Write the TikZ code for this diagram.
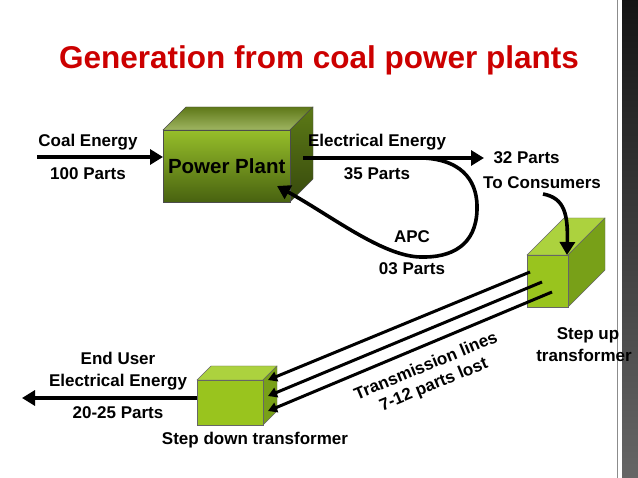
\documentclass[tikz,border=0pt]{standalone}
\usepackage{fontspec}
\setmainfont{Liberation Sans}
\usetikzlibrary{arrows.meta}
\definecolor{titlered}{RGB}{204,0,0}
\definecolor{leafgreen}{RGB}{153,196,30}
\definecolor{leafside}{RGB}{120,160,24}
\definecolor{leaftop}{RGB}{172,210,62}
\definecolor{plantlight}{RGB}{150,190,42}
\definecolor{plantdeep}{RGB}{72,98,16}
\definecolor{planttop}{RGB}{118,150,30}
\definecolor{plantside}{RGB}{92,122,22}
% cuboid: name, left x, top y, width, height, depth
\newcommand{\cuboid}[6]{\fill[leaftop,draw=black!60] (#2,#3) -- ++(#6,-#6) -- ++(#4,0) -- ++(-#6,#6) -- cycle;
	\fill[leafside,draw=black!60] (#2+#4,#3) -- ++(#6,-#6) -- ++(0,#5) -- ++(-#6,#6) -- cycle;
	\node[fill=leafgreen,draw=black!60,inner sep=0,anchor=north west,
		minimum width=#4pt,minimum height=#5pt] (#1) at (#2,#3) {}}

\begin{document}
\begin{tikzpicture}[x=1pt,y=-1pt,
	lbl/.style={font=\fontsize{17}{20}\selectfont\bfseries},
	flow/.style={line width=3.6pt,-{Triangle[length=13pt,width=15pt]}},
	wire/.style={line width=3pt,-{Triangle[length=9pt,width=10pt]}}]
	\useasboundingbox (0,0) rectangle (638,478);
	\fill[white] (0,0) rectangle (638,478);
	% right border
	\shade[top color=black!92,bottom color=black!60] (622,0) rectangle (638,478);
	\draw[black!45,line width=1.2pt] (617.5,0) -- (617.5,478);

	\node[font=\fontsize{31.5}{36}\selectfont\bfseries,text=titlered] (title) at (319,60) {Generation from coal power plants};

	% power plant
		\shade[top color=planttop!80!black,bottom color=planttop!70!white,draw=black!70] (163,130) -- ++(23,-23) -- ++(127,0) -- ++(-23,23) -- cycle;
		\shade[top color=plantside,bottom color=plantside!60!black,draw=black!70] (290,130) -- ++(23,-23) -- ++(0,72) -- ++(-23,23) -- cycle;
		\node[top color=plantlight,bottom color=plantdeep,draw=black!70,inner sep=0,anchor=north west,
			minimum width=127pt,minimum height=72pt,font=\fontsize{20.5}{24}\selectfont\bfseries] (plant) at (163,130) {Power Plant};

	% transformers
		\cuboid{stepup}{527}{255}{41}{52}{37};
		\cuboid{stepdown}{197}{380}{66}{45}{14};

	% coal in
	\coordinate (coalin) at (37,157);
	\draw[flow] (coalin) -- (coalin -| plant.west);
	\node[lbl] (coal) at (88,142) {Coal Energy};
	\node[lbl] (coalparts) at (88,174) {100 Parts};

	% electrical out
	\coordinate (elecout) at (303,158);
	\coordinate (elecend) at (484,158);
	\draw[flow] (elecout) -- (elecend);
	\node[lbl] (elec) at (377,142) {Electrical Energy};
	\node[lbl] (elecparts) at (377,174) {35 Parts};
	\node[lbl,anchor=west] (consparts) at (490,158) {32 Parts};
	\node[lbl] (cons) at (542,183) {To Consumers};

	% APC loop
	\coordinate (apcout) at (423,158);
	\coordinate (apcin) at (277,186);
	\draw[flow] (apcout) .. controls (466,160) and (478,185) .. (477,210)
		.. controls (476,245) and (452,258) .. (420,257)
		.. controls (382,256) and (330,215) .. (apcin);
	\node[lbl] (apc) at (412,237) {APC};
	\node[lbl] (apcparts) at (412,269) {03 Parts};

	% to step up
	\coordinate (consout) at (543,194);
	\draw[flow] (consout) .. controls (565,198) and (568,215) .. (stepup.north -| 567,0);
	\node[lbl] (upa) at (588,335) {Step up};
	\node[lbl] (upb) at (584,355) {transformer};

	% transmission lines
	\coordinate (lineA) at (530,272);
	\coordinate (lineB) at (542,282);
	\coordinate (lineC) at (552,292);
	\draw[wire] (lineA) -- (268,380);
	\draw[wire] (lineB) -- (268,396);
	\draw[wire] (lineC) -- (268,411);
	\node[lbl,rotate=22.5,align=center,inner sep=0] (trans) at (430,376) {Transmission lines\\7-12 parts lost};

	% end user
	\coordinate (enduser) at (22,398);
	\draw[flow] (enduser -| stepdown.west) -- (enduser);
	\node[lbl] (usera) at (118,358) {End User};
	\node[lbl] (userb) at (118,382) {Electrical Energy};
	\node[lbl] (userparts) at (118,413) {20-25 Parts};
	\node[lbl] (down) at (255,440) {Step down transformer};
\end{tikzpicture}
\end{document}
